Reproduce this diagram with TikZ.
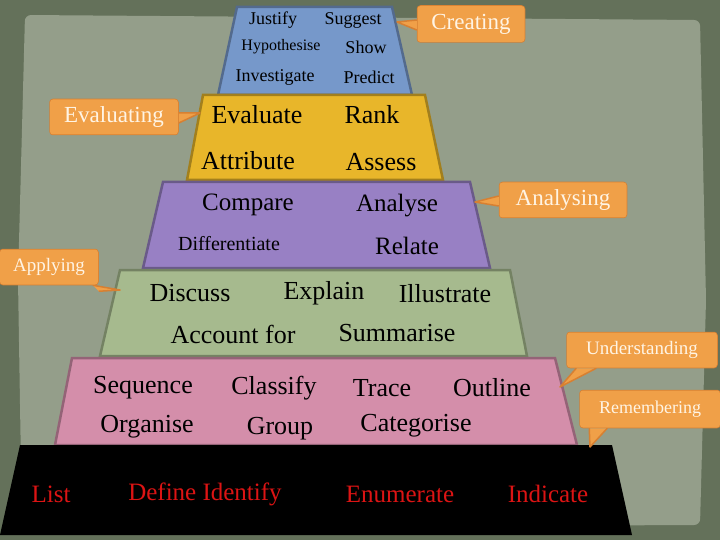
\documentclass[tikz,border=0pt]{standalone}
\usepackage{fontspec}
\setmainfont{Liberation Serif}
\begin{document}
\begin{tikzpicture}[x=1pt,y=-1pt,
  lvl/.style={draw=#1!70!black, line width=2.5pt, fill=#1},
  w/.style={font=\fontsize{#1}{#1}\selectfont, text=black, inner sep=0pt},
  rw/.style={font=\fontsize{#1}{#1}\selectfont, text=redw, inner sep=0pt},
  call/.style={font=\fontsize{#1}{#1}\selectfont, text=cream, fill=orng, draw=orngd, line width=1.5pt, rounded corners=3pt, inner xsep=4pt, inner ysep=4pt}]
\definecolor{bgdark}{RGB}{100,113,90}
\definecolor{paper}{RGB}{148,158,138}
\definecolor{lblue}{RGB}{118,152,202}
\definecolor{lgold}{RGB}{232,182,42}
\definecolor{lpurp}{RGB}{152,128,196}
\definecolor{lgreen}{RGB}{166,186,142}
\definecolor{lpink}{RGB}{212,142,170}
\definecolor{redw}{RGB}{220,20,20}
\definecolor{orng}{RGB}{240,160,72}
\definecolor{orngd}{RGB}{215,128,50}
\definecolor{cream}{RGB}{255,244,228}
\useasboundingbox (0,0) rectangle (720,540);
\fill[bgdark] (0,0) rectangle (720,540);
\fill[paper, rounded corners=6pt] (25,15) -- (700,20) -- (706,300) -- (700,525) -- (22,528) -- (18,280) -- cycle;
% levels
\draw[lvl=lblue] (237,7) -- (392,7) -- (412,95) -- (218,95) -- cycle;
\draw[lvl=lgold] (203,95) -- (425,95) -- (443,180) -- (187,180) -- cycle;
\draw[lvl=lpurp] (163,182) -- (470,182) -- (490,268) -- (143,268) -- cycle;
\draw[lvl=lgreen] (120,270) -- (510,270) -- (527,356) -- (100,356) -- cycle;
\draw[lvl=lpink] (72,358) -- (555,358) -- (577,445) -- (55,445) -- cycle;
\fill[black] (20,445) -- (612,445) -- (632,535) -- (0,535) -- cycle;
% words
\node[w=18] (j) at (273,20) {Justify};
\node[w=18] (sg) at (353,20) {Suggest};
\node[w=16] (hy) at (281,47) {Hypothesise};
\node[w=18] (sh) at (366,47) {Show};
\node[w=18] (inv) at (275,77) {Investigate};
\node[w=18] (pr) at (369,77) {Predict};
\node[w=26] (ev) at (257,115) {Evaluate};
\node[w=26] (rk) at (372,115) {Rank};
\node[w=26] (at) at (248,161) {Attribute};
\node[w=26] (as) at (381,162) {Assess};
\node[w=25] (cm) at (248,205) {Compare};
\node[w=25] (an) at (397,206) {Analyse};
\node[w=20] (df) at (229,244) {Differentiate};
\node[w=25] (rl) at (407,246) {Relate};
\node[w=26] (ds) at (190,293) {Discuss};
\node[w=26] (ex) at (324,293) {Explain};
\node[w=26] (il) at (445,294) {Illustrate};
\node[w=26] (ac) at (233,334) {Account for};
\node[w=26] (su) at (397,333) {Summarise};
\node[w=26] (sq) at (143,388) {Sequence};
\node[w=26] (cl) at (274,388) {Classify};
\node[w=26] (tr) at (382,388) {Trace};
\node[w=26] (ol) at (492,388) {Outline};
\node[w=26] (og) at (147,427) {Organise};
\node[w=26] (gr) at (280,429) {Group};
\node[w=26] (ct) at (416,426) {Categorise};
\node[rw=25] (li) at (51,494) {List};
\node[rw=25] (di) at (205,494) {Define Identify};
\node[rw=25] (en) at (400,494) {Enumerate};
\node[rw=25] (in) at (548,494) {Indicate};
% callouts
\coordinate (pc) at (397,22);
\coordinate (pe) at (200,113);
\coordinate (pa) at (475,202);
\coordinate (pp) at (120,290);
\coordinate (pu) at (560,387);
\coordinate (pm) at (590,447);
\node[call=23, minimum width=107pt, minimum height=36pt] (cr) at (471,24) {Creating};
\node[call=23, minimum width=128pt, minimum height=35pt] (eva) at (114,117) {Evaluating};
\node[call=23, minimum width=127pt, minimum height=35pt] (ana) at (563,200) {Analysing};
\node[call=19, minimum width=98pt, minimum height=35pt] (app) at (49,267) {Applying};
\node[call=19, minimum width=150pt, minimum height=35pt] (und) at (642,350) {Understanding};
\node[call=18, minimum width=140pt, minimum height=37pt] (rem) at (650,409) {Remembering};
\begin{scope}[fill=orng, draw=orngd, line width=1.5pt, line join=round]
\filldraw ([yshift=-6pt]cr.west) -- (pc) -- ([yshift=4pt]cr.west) ;
\filldraw ([yshift=-6pt]eva.east) -- (pe) -- ([yshift=4pt]eva.east);
\filldraw ([yshift=-6pt]ana.west) -- (pa) -- ([yshift=4pt]ana.west);
\filldraw ([xshift=-6pt]app.south east) -- (pp) -- ([yshift=-6pt]app.south east);
\filldraw ([xshift=10pt]und.south west) -- (pu) -- ([xshift=30pt]und.south west);
\filldraw ([xshift=10pt]rem.south west) -- (pm) -- ([xshift=28pt]rem.south west);
\end{scope}
\node[call=23, minimum width=107pt, minimum height=36pt, draw=none] at (cr) {Creating};
\node[call=23, minimum width=128pt, minimum height=35pt, draw=none] at (eva) {Evaluating};
\node[call=23, minimum width=127pt, minimum height=35pt, draw=none] at (ana) {Analysing};
\node[call=19, minimum width=98pt, minimum height=35pt, draw=none] at (app) {Applying};
\node[call=19, minimum width=150pt, minimum height=35pt, draw=none] at (und) {Understanding};
\node[call=18, minimum width=140pt, minimum height=37pt, draw=none] at (rem) {Remembering};
\end{tikzpicture}
\end{document}
